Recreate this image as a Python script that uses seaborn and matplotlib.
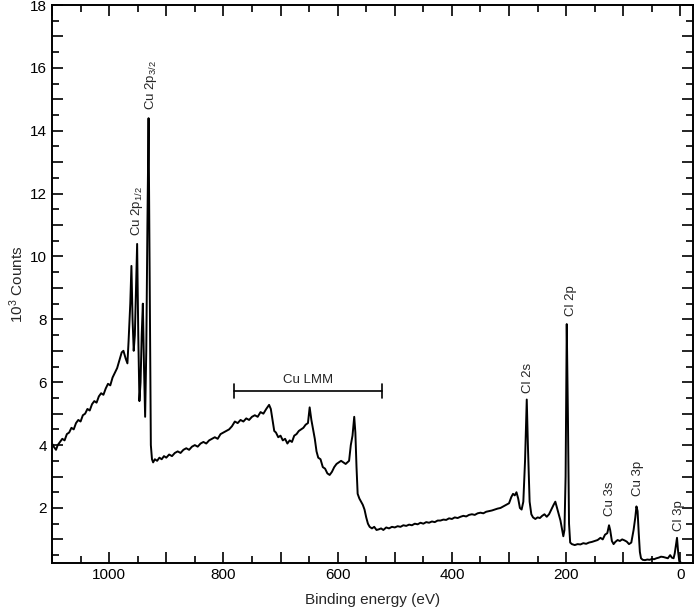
import pandas as pd
import seaborn as sns
import matplotlib
matplotlib.use("Agg")
import matplotlib.pyplot as plt
from matplotlib.ticker import MultipleLocator, FuncFormatter

# XPS survey spectrum (binding energy in eV, counts in 10^3)
energia = [
    1100, 1097, 1093, 1090, 1086, 1082, 1078, 1074, 1070, 1066, 1062, 1058, 1054, 1050,
    1046, 1042, 1038, 1034, 1030, 1026, 1022, 1018, 1014, 1010, 1006, 1002, 998, 994,
    990, 986, 982, 978, 975, 971, 968, 966, 963, 961, 959, 957, 955, 953, 951, 949,
    947, 945, 943, 941, 939, 937, 935, 933, 931, 929, 927, 925, 923, 920, 916, 912,
    908, 904, 900, 895, 890, 885, 880, 875, 870, 865, 860, 855, 850, 845, 840, 835,
    830, 825, 820, 815, 810, 805, 800, 795, 790, 785, 780, 775, 770, 765, 760, 755,
    750, 745, 740, 735, 730, 725, 720, 717, 714, 711, 708, 704, 700, 696, 692, 688,
    684, 680, 676, 672, 668, 664, 660, 656, 652, 649, 646, 643, 640, 637, 634, 630,
    626, 622, 618, 614, 610, 606, 602, 598, 594, 590, 586, 583, 580, 577, 574, 571,
    569, 567, 565, 562, 559, 556, 553, 550, 547, 544, 540, 536, 532, 528, 524, 520,
    515, 510, 505, 500, 495, 490, 485, 480, 475, 470, 465, 460, 455, 450, 445, 440,
    435, 430, 425, 420, 415, 410, 405, 400, 395, 390, 385, 380, 375, 370, 365, 360,
    355, 350, 345, 340, 335, 330, 325, 320, 315, 310, 305, 300, 296, 293, 290, 287,
    284, 281, 278, 275, 272, 269, 267, 264, 261, 258, 254, 250, 246, 242, 238, 234,
    230, 226, 222, 219, 216, 213, 210, 207, 205, 203, 201, 199, 197, 195, 193, 190,
    185, 180, 175, 170, 165, 160, 155, 150, 145, 140, 136, 132, 128, 125, 123, 120,
    117, 114, 110, 106, 102, 98, 94, 90, 86, 82, 79, 77, 75, 73, 71, 69,
    66, 62, 58, 54, 50, 46, 42, 38, 34, 30, 26, 22, 18, 15, 12, 10,
    8, 6, 4, 2, 0,
]
cuentas = [
    4.05, 3.95, 3.85, 4.0, 4.1, 4.2, 4.15, 4.35, 4.4, 4.55, 4.5, 4.7, 4.8, 4.75,
    4.95, 5.0, 5.15, 5.1, 5.3, 5.4, 5.35, 5.55, 5.65, 5.6, 5.8, 5.95, 5.9, 6.15,
    6.3, 6.45, 6.7, 6.95, 7.0, 6.75, 6.6, 7.3, 8.5, 9.7, 8.0, 7.0, 7.5, 9.0, 10.4, 7.5,
    5.4, 6.0, 7.5, 8.5, 6.5, 4.9, 7.0, 11.0, 14.4, 9.0, 4.0, 3.55, 3.45, 3.55, 3.5, 3.6,
    3.55, 3.65, 3.6, 3.7, 3.65, 3.75, 3.8, 3.75, 3.85, 3.9, 3.85, 3.95, 4.0, 3.95, 4.05, 4.1,
    4.05, 4.15, 4.2, 4.25, 4.2, 4.35, 4.4, 4.45, 4.5, 4.6, 4.75, 4.7, 4.8, 4.75, 4.85, 4.8,
    4.9, 4.95, 4.9, 5.05, 5.0, 5.15, 5.28, 5.15, 4.8, 4.45, 4.4, 4.25, 4.3, 4.15, 4.2, 4.05,
    4.15, 4.1, 4.3, 4.35, 4.45, 4.5, 4.55, 4.65, 4.7, 5.2, 4.8, 4.5, 4.2, 3.8, 3.6, 3.55,
    3.3, 3.25, 3.1, 3.05, 3.15, 3.3, 3.4, 3.45, 3.5, 3.45, 3.4, 3.45, 3.5, 4.0, 4.3, 4.9,
    4.4, 3.3, 2.45, 2.3, 2.2, 2.1, 1.95, 1.7, 1.5, 1.4, 1.35, 1.4, 1.3, 1.32, 1.35, 1.3,
    1.38, 1.35, 1.4, 1.38, 1.42, 1.4, 1.45, 1.43, 1.47, 1.45, 1.5, 1.48, 1.53, 1.5, 1.55, 1.53,
    1.57, 1.55, 1.6, 1.6, 1.63, 1.62, 1.67, 1.65, 1.7, 1.68, 1.72, 1.75, 1.73, 1.78, 1.8, 1.78,
    1.83, 1.85, 1.83, 1.88, 1.9, 1.92, 1.95, 1.98, 2.0, 2.05, 2.1, 2.15, 2.35, 2.45, 2.4, 2.5,
    2.3, 2.0, 1.95, 2.2, 3.5, 5.45, 4.0, 2.2, 1.8, 1.7, 1.65, 1.7, 1.68, 1.75, 1.8, 1.72,
    1.8, 1.95, 2.1, 2.2, 2.0, 1.8, 1.6, 1.3, 1.1, 1.3, 3.0, 7.85, 5.0, 1.5, 0.9, 0.85,
    0.82, 0.85, 0.84, 0.88, 0.86, 0.9, 0.92, 0.95, 0.98, 1.05, 1.0, 1.15, 1.2, 1.45, 1.3, 0.95,
    0.85, 0.92, 0.98, 0.95, 1.0, 0.97, 0.93, 0.85, 0.9, 1.3, 1.7, 2.05, 1.9, 1.2, 0.6, 0.4,
    0.35, 0.34, 0.36, 0.35, 0.38, 0.37, 0.4, 0.42, 0.45, 0.44, 0.42, 0.4, 0.5, 0.42, 0.4, 0.55,
    0.8, 1.05, 0.6, 0.3, 0.28,
]

# etiquetas de los picos: texto, energia, altura de la base del texto
picos = ["Cu 2p$_{3/2}$", "Cu 2p$_{1/2}$", "Cl 2s", "Cl 2p", "Cu 3s", "Cu 3p", "Cl 3p"]
picos_x = [926, 951, 267, 192, 123, 74, 3]
picos_y = [14.65, 10.65, 5.65, 8.1, 1.75, 2.38, 1.27]

# banda Auger Cu LMM
lmm_inicio = 781
lmm_fin = 523
lmm_nivel = 5.73

df = pd.DataFrame({"energia": energia, "cuentas": cuentas})

sns.set_style("ticks")
plt.rcParams["font.family"] = ["Liberation Sans", "DejaVu Sans"]
plt.rcParams["mathtext.fontset"] = "custom"
plt.rcParams["mathtext.rm"] = "Liberation Sans"
plt.rcParams["mathtext.it"] = "Liberation Sans"

fig = plt.figure(figsize=(7, 6.13), dpi=100)
ax = fig.add_axes([0.0743, 0.0816, 0.9157, 0.9102])

sns.lineplot(data=df, x="energia", y="cuentas", color="black", linewidth=1.4, ax=ax)

for texto, px, py in zip(picos, picos_x, picos_y):
    ax.text(px, py, texto, rotation=90, ha="center", va="bottom", fontsize=9.5)

ax.plot([lmm_inicio, lmm_fin], [lmm_nivel, lmm_nivel], color="black", linewidth=1.2)
ax.plot([lmm_inicio, lmm_inicio], [lmm_nivel - 0.22, lmm_nivel + 0.22], color="black", linewidth=1.2)
ax.plot([lmm_fin, lmm_fin], [lmm_nivel - 0.22, lmm_nivel + 0.22], color="black", linewidth=1.2)
ax.text((lmm_inicio + lmm_fin) / 2, lmm_nivel + 0.15, "Cu LMM", ha="center", va="bottom", fontsize=9.5)

ax.set_xlim(1100, -22)
ax.set_ylim(0.25, 18)

ax.xaxis.set_major_locator(MultipleLocator(100))
ax.xaxis.set_minor_locator(MultipleLocator(50))
ax.xaxis.set_major_formatter(FuncFormatter(lambda v, p: f"{int(v)}" if round(v) % 200 == 0 else ""))
ax.yaxis.set_major_locator(MultipleLocator(1))
ax.yaxis.set_minor_locator(MultipleLocator(0.5))
ax.yaxis.set_major_formatter(FuncFormatter(lambda v, p: f"{int(v)}" if round(v) % 2 == 0 else ""))

ax.tick_params(which="both", direction="in", top=True, right=True, labelsize=11, width=1.2, colors="black")
ax.tick_params(which="major", length=8)
ax.tick_params(which="minor", length=5)
for s in ax.spines.values():
    s.set_linewidth(1.4)
    s.set_color("black")

ax.set_xlabel("Binding energy (eV)", fontsize=11, labelpad=8)
ax.set_ylabel("10$^3$ Counts", fontsize=11, labelpad=3)

fig.savefig("out.png", dpi=100)
